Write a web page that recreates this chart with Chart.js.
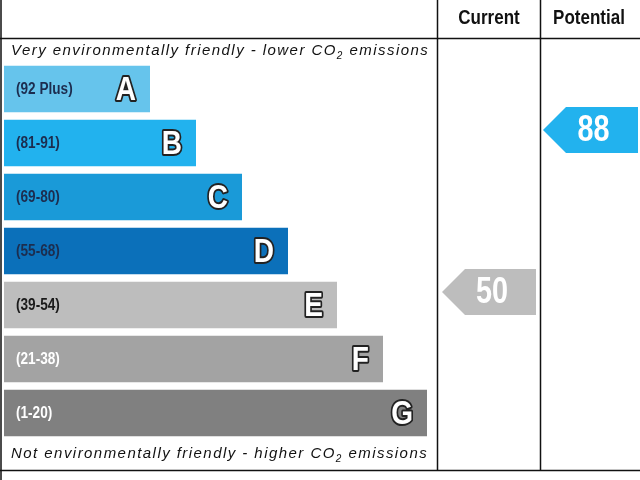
<!DOCTYPE html>
<html><head><meta charset="utf-8">
<script src="https://cdn.jsdelivr.net/npm/chart.js@4"></script>
<style>html,body{margin:0;padding:0;background:#fff}#w{width:640px;height:480px}</style>
</head><body><div id="w"><canvas id="c"></canvas></div>
<script>
const bands = ['A','B','C','D','E','F','G'];
const ranges = ['(92 Plus)','(81-91)','(69-80)','(55-68)','(39-54)','(21-38)','(1-20)'];
const barLengths = [146,192,238,284,333,379,423];
const colors = ['#66c4ec','#22b2ee','#1a9ad8','#0b70ba','#bdbdbd','#a3a3a3','#808080'];
const labelColors = ['#1c2d4f','#1c2d4f','#1c2d4f','#1c2d4f','#1a1a1a','#ffffff','#ffffff'];
const currentValue = 50, currentBand = 'E';
const potentialValue = 88, potentialBand = 'B';
const FONT = '"Liberation Sans", Arial';

function narrowText(ctx,t,x,y,sx,stroke){
  ctx.save(); ctx.translate(x,y); ctx.scale(sx,1);
  if(stroke) ctx.strokeText(t,0,0);
  ctx.fillText(t,0,0); ctx.restore();
}

const deco = {
  id:'deco',
  afterDatasetsDraw(chart){
    const ctx = chart.ctx, y = chart.scales.y, x = chart.scales.x;
    ctx.save();
    ctx.strokeStyle = '#111'; ctx.lineWidth = 1.5;
    ctx.beginPath();
    ctx.moveTo(1,0); ctx.lineTo(1,480);
    ctx.moveTo(0,38.5); ctx.lineTo(640,38.5);
    ctx.moveTo(0,470.5); ctx.lineTo(640,470.5);
    ctx.moveTo(437.5,0); ctx.lineTo(437.5,470);
    ctx.moveTo(540.5,0); ctx.lineTo(540.5,470);
    ctx.stroke();
    ctx.fillStyle = '#111'; ctx.font = 'bold 20px '+FONT; ctx.textAlign='center'; ctx.textBaseline='middle';
    narrowText(ctx,'Current',489,18,0.85); narrowText(ctx,'Potential',589,18,0.85);
    ctx.textAlign='left';
    function cap(t1,yy){
      ctx.letterSpacing = '1.45px';
      ctx.font = 'italic 15px '+FONT;
      ctx.fillText(t1,11,yy);
      let w = ctx.measureText(t1).width;
      ctx.font = 'italic 10px '+FONT;
      ctx.fillText('2',11+w,yy+5);
      let w2 = ctx.measureText('2').width;
      ctx.font = 'italic 15px '+FONT;
      ctx.fillText(' emissions',11+w+w2,yy);
      ctx.letterSpacing = '0px';
    }
    cap('Very environmentally friendly - lower CO',51);
    cap('Not environmentally friendly - higher CO',454);
    bands.forEach((b,i)=>{
      const cy = y.getPixelForValue(i);
      const xe = x.getPixelForValue(barLengths[i]);
      ctx.font = 'bold 16px '+FONT; ctx.fillStyle = labelColors[i]; ctx.textAlign='left';
      narrowText(ctx,ranges[i],16,cy+1,0.85);
      ctx.font = 'bold 33px '+FONT; ctx.textAlign='right';
      ctx.lineWidth = 4; ctx.strokeStyle = '#222'; ctx.lineJoin='round';
      ctx.fillStyle='#fff';
      narrowText(ctx,b,xe-14,cy+2,0.85,true);
    });
    function arrow(val,band,x0,x1,col){
      const cy = y.getPixelForValue(bands.indexOf(band)) - 13, h = 23;
      ctx.fillStyle = col; ctx.beginPath();
      ctx.moveTo(x0,cy); ctx.lineTo(x0+23,cy-h); ctx.lineTo(x1,cy-h); ctx.lineTo(x1,cy+h); ctx.lineTo(x0+23,cy+h); ctx.closePath(); ctx.fill();
      ctx.fillStyle='#fff'; ctx.font='bold 36px '+FONT; ctx.textAlign='center';
      narrowText(ctx,String(val),(x0+x1)/2+3,cy+1,0.8);
    }
    arrow(currentValue,currentBand,442,536,'#bdbdbd');
    arrow(potentialValue,potentialBand,543,638,'#22b2ee');
    ctx.restore();
  }
};

new Chart(document.getElementById('c'),{
  type:'bar',
  data:{labels:bands,datasets:[{data:barLengths,backgroundColor:colors,barPercentage:0.86,categoryPercentage:1}]},
  options:{
    indexAxis:'y',responsive:true,maintainAspectRatio:false,animation:false,
    layout:{padding:{top:62,bottom:40,left:4,right:0}},
    plugins:{legend:{display:false},tooltip:{enabled:false}},
    scales:{x:{display:false,min:0,max:636},y:{display:false}}
  },
  plugins:[deco]
});
</script></body></html>
